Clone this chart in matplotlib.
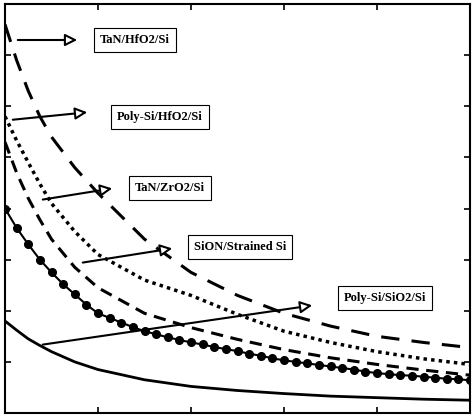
import matplotlib
matplotlib.use("Agg")
import matplotlib.pyplot as plt
import numpy as np

x_coarse = [0, 0.125, 0.25, 0.375, 0.5, 0.75, 1, 1.5, 2, 2.5, 3, 3.5, 4, 4.5, 5]
sio2 = [1.8, 1.62, 1.45, 1.32, 1.2, 1.0, 0.85, 0.65, 0.52, 0.44, 0.38, 0.33, 0.3, 0.27, 0.25]
zro2 = [5.3, 4.7, 4.2, 3.78, 3.4, 2.85, 2.45, 1.95, 1.67, 1.44, 1.24, 1.08, 0.95, 0.84, 0.74]
polyhfo2 = [5.8, 5.33, 4.9, 4.48, 4.1, 3.55, 3.1, 2.6, 2.3, 1.93, 1.6, 1.38, 1.2, 1.06, 0.95]
tanhfo2 = [7.6, 6.9, 6.3, 5.8, 5.4, 4.8, 4.3, 3.4, 2.75, 2.3, 1.95, 1.7, 1.5, 1.38, 1.28]

x_fine = [i * 0.125 for i in range(41)]
sion = [4.0, 3.62, 3.3, 3.0, 2.75, 2.52, 2.32, 2.12, 1.95, 1.86, 1.77, 1.68, 1.6, 1.54,
        1.48, 1.43, 1.38, 1.34, 1.29, 1.25, 1.21, 1.16, 1.12, 1.07, 1.03, 1.0, 0.97, 0.94,
        0.91, 0.88, 0.85, 0.81, 0.78, 0.76, 0.74, 0.73, 0.71, 0.69, 0.67, 0.66, 0.64]

labels = ["TaN/HfO2/Si", "Poly-Si/HfO2/Si", "TaN/ZrO2/Si", "SiON/Strained Si", "Poly-Si/SiO2/Si"]
# (tail px, head px, box center px)
ann = [((15, 40), (80, 40), (135, 40)),
       ((10, 120), (90, 112), (160, 117)),
       ((40, 200), (115, 188), (170, 188)),
       ((80, 263), (175, 248), (240, 247)),
       ((40, 345), (315, 305), (385, 298))]

fig = plt.figure(figsize=(4.74, 4.17), dpi=100)
ax = fig.add_axes([5/474, 4/417, 465/474, 409/417])
ax.plot(x_coarse, sio2, 'k-', lw=2)
ax.plot(x_fine, sion, 'k-', lw=1.5, marker='o', ms=5.5)
ax.plot(x_coarse, zro2, 'k', lw=2.2, dashes=(4, 2.5))
ax.plot(x_coarse, polyhfo2, 'k', lw=2.5, dashes=(1, 1.2))
ax.plot(x_coarse, tanhfo2, 'k', lw=2.2, dashes=(6, 4))
ax.set_xlim(0, 5)
ax.set_ylim(0, 8)
ax.set_xticks([1, 2, 3, 4])
ax.set_yticks(range(1, 8))
ax.set_xticklabels([]); ax.set_yticklabels([])
ax.tick_params(direction='in', top=True, right=True, length=4, width=1.2)
for s in ax.spines.values():
    s.set_linewidth(1.5)

def fr(p):
    return ((p[0] - 5) / 465, (413 - p[1]) / 409)

for lab, (t, h, b) in zip(labels, ann):
    ax.annotate("", xy=fr(h), xytext=fr(t), xycoords='axes fraction',
                arrowprops=dict(arrowstyle='-|>', color='k', lw=1.5, mutation_scale=18,
                                fc='white'))
    ax.text(*fr(b), lab, transform=ax.transAxes, ha='center', va='center',
            family='Liberation Serif', fontweight='bold', fontsize=9,
            bbox=dict(boxstyle='square,pad=0.5', fc='white', ec='k', lw=0.8))

fig.savefig("out.png", dpi=100)
